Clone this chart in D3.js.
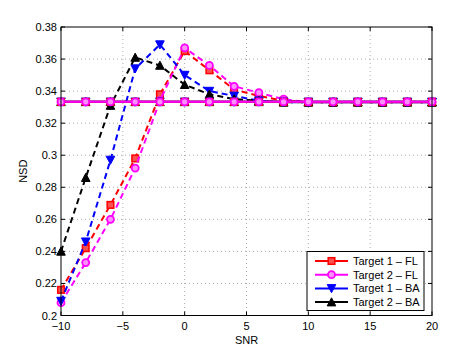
<!DOCTYPE html>
<html><head><meta charset="utf-8">
<script src="https://cdn.jsdelivr.net/npm/d3@7"></script>
<style>body{margin:0;background:#fff}svg{display:block}text{font-family:"Liberation Sans",Arial,sans-serif}</style>
</head><body><svg id="c" width="474" height="356"></svg>
<script>
const snr = [-10,-8,-6,-4,-2,0,2,4,6,8,10,12,14,16,18,20];
const t1FL = [0.216,0.242,0.269,0.298,0.338,0.365,0.353,0.341,0.337,0.334,0.333,0.333,0.333,0.333,0.333,0.333];
const t2FL = [0.208,0.233,0.260,0.292,0.334,0.367,0.356,0.343,0.339,0.335,0.333,0.333,0.333,0.333,0.333,0.333];
const t1BA = [0.209,0.246,0.297,0.354,0.369,0.350,0.340,0.337,0.334,0.333,0.333,0.333,0.333,0.333,0.333,0.333];
const t2BA = [0.240,0.286,0.331,0.361,0.356,0.344,0.338,0.335,0.334,0.333,0.333,0.333,0.333,0.333,0.333,0.333];
const flat = [0.3333,0.3333,0.3333,0.3333,0.3333,0.3333,0.3333,0.3333,0.3333,0.3333,0.3333,0.3333,0.3333,0.3333,0.3333,0.3333];
const xTicks = [-10,-5,0,5,10,15,20];
const yTicks = [0.2,0.22,0.24,0.26,0.28,0.3,0.32,0.34,0.36,0.38];
const names = ["Target 1 \u2013 FL","Target 2 \u2013 FL","Target 1 \u2013 BA","Target 2 \u2013 BA"];
const colors = ["#ff0000","#ff00ff","#0000ff","#000000"];
const markers = ["square","circle","tridown","triup"];
const series = [t1FL,t2FL,t1BA,t2BA];

const svg = d3.select("#c");
const L=61,R=432,T=27,B=315.5;
const x = d3.scaleLinear().domain([-10,20]).range([L,R]);
const y = d3.scaleLinear().domain([0.2,0.38]).range([B,T]);

// grid
svg.append("g").selectAll("line").data(xTicks.slice(1,-1)).join("line")
  .attr("x1",d=>x(d)).attr("x2",d=>x(d)).attr("y1",T).attr("y2",B)
  .attr("stroke","#aaa").attr("stroke-width",1).attr("stroke-dasharray","1,3");
svg.append("g").selectAll("line").data(yTicks.slice(1,-1)).join("line")
  .attr("y1",d=>y(d)).attr("y2",d=>y(d)).attr("x1",L).attr("x2",R)
  .attr("stroke","#aaa").attr("stroke-width",1).attr("stroke-dasharray","1,3");

function marker(g, type, col, cx, cy){
  if(type==="square") g.append("rect").attr("x",cx-3.3).attr("y",cy-3.3).attr("width",6.6).attr("height",6.6)
      .attr("fill","#ff5050").attr("stroke",col).attr("stroke-width",1.5);
  else if(type==="circle") g.append("circle").attr("cx",cx).attr("cy",cy).attr("r",3.5)
      .attr("fill","#ff90ff").attr("stroke",col).attr("stroke-width",1.8);
  else if(type==="tridown") g.append("path").attr("d",`M${cx-4.3},${cy-3.8}L${cx+4.3},${cy-3.8}L${cx},${cy+4.3}Z`)
      .attr("fill",col).attr("stroke",col).attr("stroke-width",1);
  else g.append("path").attr("d",`M${cx-4.3},${cy+3.8}L${cx+4.3},${cy+3.8}L${cx},${cy-4.3}Z`)
      .attr("fill",col).attr("stroke",col).attr("stroke-width",1);
}
const line = d3.line().x((d,i)=>x(snr[i])).y(d=>y(d));
const plot = svg.append("g");
// dashed series
series.forEach((s,k)=>{
  plot.append("path").datum(s).attr("d",line).attr("fill","none").attr("stroke",colors[k])
    .attr("stroke-width",2).attr("stroke-dasharray","6,4");
  const mg = plot.append("g");
  s.forEach((v,i)=>marker(mg,markers[k],colors[k],x(snr[i]),y(v)));
});
// solid reference lines (magenta on top)
[3,2,0,1].forEach(k=>{
  plot.append("path").datum(flat).attr("d",line).attr("fill","none").attr("stroke",colors[k]).attr("stroke-width",2);
  const mg = plot.append("g");
  flat.forEach((v,i)=>marker(mg,markers[k],colors[k],x(snr[i]),y(v)));
});

// axes box
svg.append("rect").attr("x",L).attr("y",T).attr("width",R-L).attr("height",B-T)
  .attr("fill","none").attr("stroke","#000").attr("stroke-width",1);
const fmtX = d=> d<0 ? "\u2212"+Math.abs(d) : String(d);
const ax = svg.append("g");
xTicks.forEach(d=>{
  ax.append("line").attr("x1",x(d)).attr("x2",x(d)).attr("y1",B).attr("y2",B-4).attr("stroke","#000");
  ax.append("line").attr("x1",x(d)).attr("x2",x(d)).attr("y1",T).attr("y2",T+4).attr("stroke","#000");
  ax.append("text").attr("x",x(d)).attr("y",B+14).attr("text-anchor","middle").attr("font-size",11).text(fmtX(d));
});
yTicks.forEach(d=>{
  ax.append("line").attr("x1",L).attr("x2",L+4).attr("y1",y(d)).attr("y2",y(d)).attr("stroke","#000");
  ax.append("line").attr("x1",R).attr("x2",R-4).attr("y1",y(d)).attr("y2",y(d)).attr("stroke","#000");
  ax.append("text").attr("x",L-4).attr("y",y(d)+4).attr("text-anchor","end").attr("font-size",11).text(String(+d.toFixed(2)));
});
svg.append("text").attr("x",(L+R)/2).attr("y",344).attr("text-anchor","middle").attr("font-size",11).text("SNR");
svg.append("text").attr("transform",`translate(27,${(T+B)/2}) rotate(-90)`).attr("text-anchor","middle").attr("font-size",11).text("NSD");

// legend
const lg = svg.append("g");
lg.append("rect").attr("x",307).attr("y",251.5).attr("width",117).attr("height",59)
  .attr("fill","#fff").attr("stroke","#000").attr("stroke-width",1);
names.forEach((n,k)=>{
  const yy = 261 + k*13.7;
  lg.append("line").attr("x1",315).attr("x2",348).attr("y1",yy).attr("y2",yy).attr("stroke",colors[k]).attr("stroke-width",2);
  marker(lg,markers[k],colors[k],331.5,yy);
  lg.append("text").attr("x",353).attr("y",yy+4).attr("font-size",11).text(n);
});
</script></body></html>
